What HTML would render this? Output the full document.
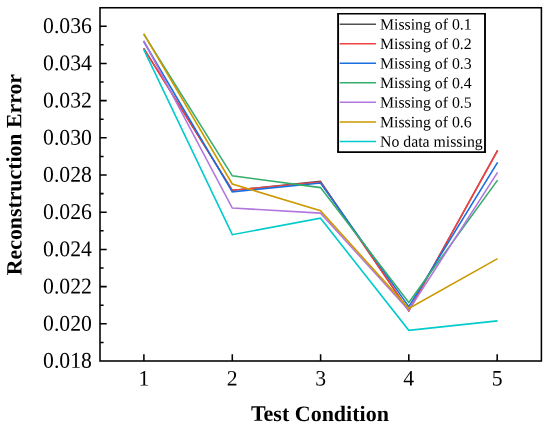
<!DOCTYPE html><html><head><meta charset="utf-8"><title>Reconstruction Error</title>
<style>html,body{margin:0;padding:0;background:#fff}svg{display:block}text{font-family:"Liberation Serif",serif;fill:#000}</style></head><body>
<svg width="550" height="429" viewBox="0 0 550 429">
<rect width="550" height="429" fill="#fff"/>
<polyline points="143.7,48.3 232.3,190.3 320.5,181.3 408.8,310.9 497.6,150.3" fill="none" stroke="#515151" stroke-width="1.35" stroke-linejoin="miter" stroke-miterlimit="10"/>
<polyline points="143.7,48.3 232.3,190.2 320.5,182.0 408.8,310.7 497.6,150.5" fill="none" stroke="#F14040" stroke-width="1.6" stroke-linejoin="miter" stroke-miterlimit="10"/>
<polyline points="143.7,41.5 232.3,191.8 320.5,183.0 408.8,306.6 497.6,162.4" fill="none" stroke="#1A6FDF" stroke-width="1.6" stroke-linejoin="miter" stroke-miterlimit="10"/>
<polyline points="143.7,34.1 232.3,175.8 320.5,187.6 408.8,302.5 497.6,180.1" fill="none" stroke="#37AD6B" stroke-width="1.6" stroke-linejoin="miter" stroke-miterlimit="10"/>
<polyline points="143.7,40.7 232.3,208.0 320.5,213.1 408.8,310.1 497.6,172.4" fill="none" stroke="#B177DE" stroke-width="1.6" stroke-linejoin="miter" stroke-miterlimit="10"/>
<polyline points="143.7,33.7 232.3,184.0 320.5,210.8 408.8,308.4 497.6,258.6" fill="none" stroke="#CC9900" stroke-width="1.6" stroke-linejoin="miter" stroke-miterlimit="10"/>
<polyline points="143.7,49.3 232.3,234.7 320.5,218.2 408.8,330.3 497.6,320.9" fill="none" stroke="#00CBCC" stroke-width="1.6" stroke-linejoin="miter" stroke-miterlimit="10"/>
<rect x="100.0" y="7.75" width="441.4" height="353.25" fill="none" stroke="#000" stroke-width="1.55"/>
<text transform="translate(91.9,367.85) rotate(0.03) scale(1,1.04)" font-size="21.7" text-anchor="end">0.018</text>
<text transform="translate(91.9,330.65) rotate(0.03) scale(1,1.04)" font-size="21.7" text-anchor="end">0.020</text>
<text transform="translate(91.9,293.45) rotate(0.03) scale(1,1.04)" font-size="21.7" text-anchor="end">0.022</text>
<text transform="translate(91.9,256.25) rotate(0.03) scale(1,1.04)" font-size="21.7" text-anchor="end">0.024</text>
<text transform="translate(91.9,219.05) rotate(0.03) scale(1,1.04)" font-size="21.7" text-anchor="end">0.026</text>
<text transform="translate(91.9,181.85) rotate(0.03) scale(1,1.04)" font-size="21.7" text-anchor="end">0.028</text>
<text transform="translate(91.9,144.65) rotate(0.03) scale(1,1.04)" font-size="21.7" text-anchor="end">0.030</text>
<text transform="translate(91.9,107.45) rotate(0.03) scale(1,1.04)" font-size="21.7" text-anchor="end">0.032</text>
<text transform="translate(91.9,70.25) rotate(0.03) scale(1,1.04)" font-size="21.7" text-anchor="end">0.034</text>
<text transform="translate(91.9,33.05) rotate(0.03) scale(1,1.04)" font-size="21.7" text-anchor="end">0.036</text>
<text transform="translate(143.9,385.5) rotate(0.03) scale(1,1.015)" font-size="21.7" text-anchor="middle">1</text>
<text transform="translate(232.3,385.5) rotate(0.03) scale(1,1.015)" font-size="21.7" text-anchor="middle">2</text>
<text transform="translate(320.6,385.5) rotate(0.03) scale(1,1.015)" font-size="21.7" text-anchor="middle">3</text>
<text transform="translate(408.8,385.5) rotate(0.03) scale(1,1.015)" font-size="21.7" text-anchor="middle">4</text>
<text transform="translate(497.2,385.5) rotate(0.03) scale(1,1.015)" font-size="21.7" text-anchor="middle">5</text>
<path d="M100.0,342.40h3.6 M100.0,323.80h6.7 M100.0,305.20h3.6 M100.0,286.60h6.7 M100.0,268.00h3.6 M100.0,249.40h6.7 M100.0,230.80h3.6 M100.0,212.20h6.7 M100.0,193.60h3.6 M100.0,175.00h6.7 M100.0,156.40h3.6 M100.0,137.80h6.7 M100.0,119.20h3.6 M100.0,100.60h6.7 M100.0,82.00h3.6 M100.0,63.40h6.7 M100.0,44.80h3.6 M100.0,26.20h6.7 M143.9,361.0v-6.7 M232.3,361.0v-6.7 M320.6,361.0v-6.7 M408.8,361.0v-6.7 M497.2,361.0v-6.7" stroke="#000" stroke-width="1.55" fill="none"/>
<text transform="translate(319.9,420.9) rotate(0.03)" font-size="22" font-weight="bold" text-anchor="middle">Test Condition</text>
<text transform="translate(21.35,174.6) rotate(-90.03)" font-size="21.8" font-weight="bold" text-anchor="middle">Reconstruction Error</text>
<rect x="338.1" y="13.75" width="146.9" height="138.35" fill="#fff"/>
<path d="M337.15,13.75H485.95" stroke="#000" stroke-width="1.55" fill="none"/>
<path d="M337.15,152.1H485.95" stroke="#000" stroke-width="1.8" fill="none"/>
<path d="M338.1,13.75V152.1" stroke="#000" stroke-width="1.9" fill="none"/>
<path d="M485,13.75V152.1" stroke="#000" stroke-width="1.9" fill="none"/>
<line x1="339.7" y1="24.2" x2="376" y2="24.2" stroke="#515151" stroke-width="1.5"/>
<text transform="translate(380.0,29.5) rotate(0.03)" font-size="15.8">Missing of 0.1</text>
<line x1="339.7" y1="43.7" x2="376" y2="43.7" stroke="#F14040" stroke-width="1.5"/>
<text transform="translate(380.0,49.0) rotate(0.03)" font-size="15.8">Missing of 0.2</text>
<line x1="339.7" y1="63.3" x2="376" y2="63.3" stroke="#1A6FDF" stroke-width="1.5"/>
<text transform="translate(380.0,68.6) rotate(0.03)" font-size="15.8">Missing of 0.3</text>
<line x1="339.7" y1="82.8" x2="376" y2="82.8" stroke="#37AD6B" stroke-width="1.5"/>
<text transform="translate(380.0,88.1) rotate(0.03)" font-size="15.8">Missing of 0.4</text>
<line x1="339.7" y1="102.3" x2="376" y2="102.3" stroke="#B177DE" stroke-width="1.5"/>
<text transform="translate(380.0,107.6) rotate(0.03)" font-size="15.8">Missing of 0.5</text>
<line x1="339.7" y1="121.9" x2="376" y2="121.9" stroke="#CC9900" stroke-width="1.5"/>
<text transform="translate(380.0,127.2) rotate(0.03)" font-size="15.8">Missing of 0.6</text>
<line x1="339.7" y1="141.4" x2="376" y2="141.4" stroke="#00CBCC" stroke-width="1.5"/>
<text transform="translate(380.0,146.7) rotate(0.03)" font-size="15.8">No data missing</text>
</svg></body></html>
